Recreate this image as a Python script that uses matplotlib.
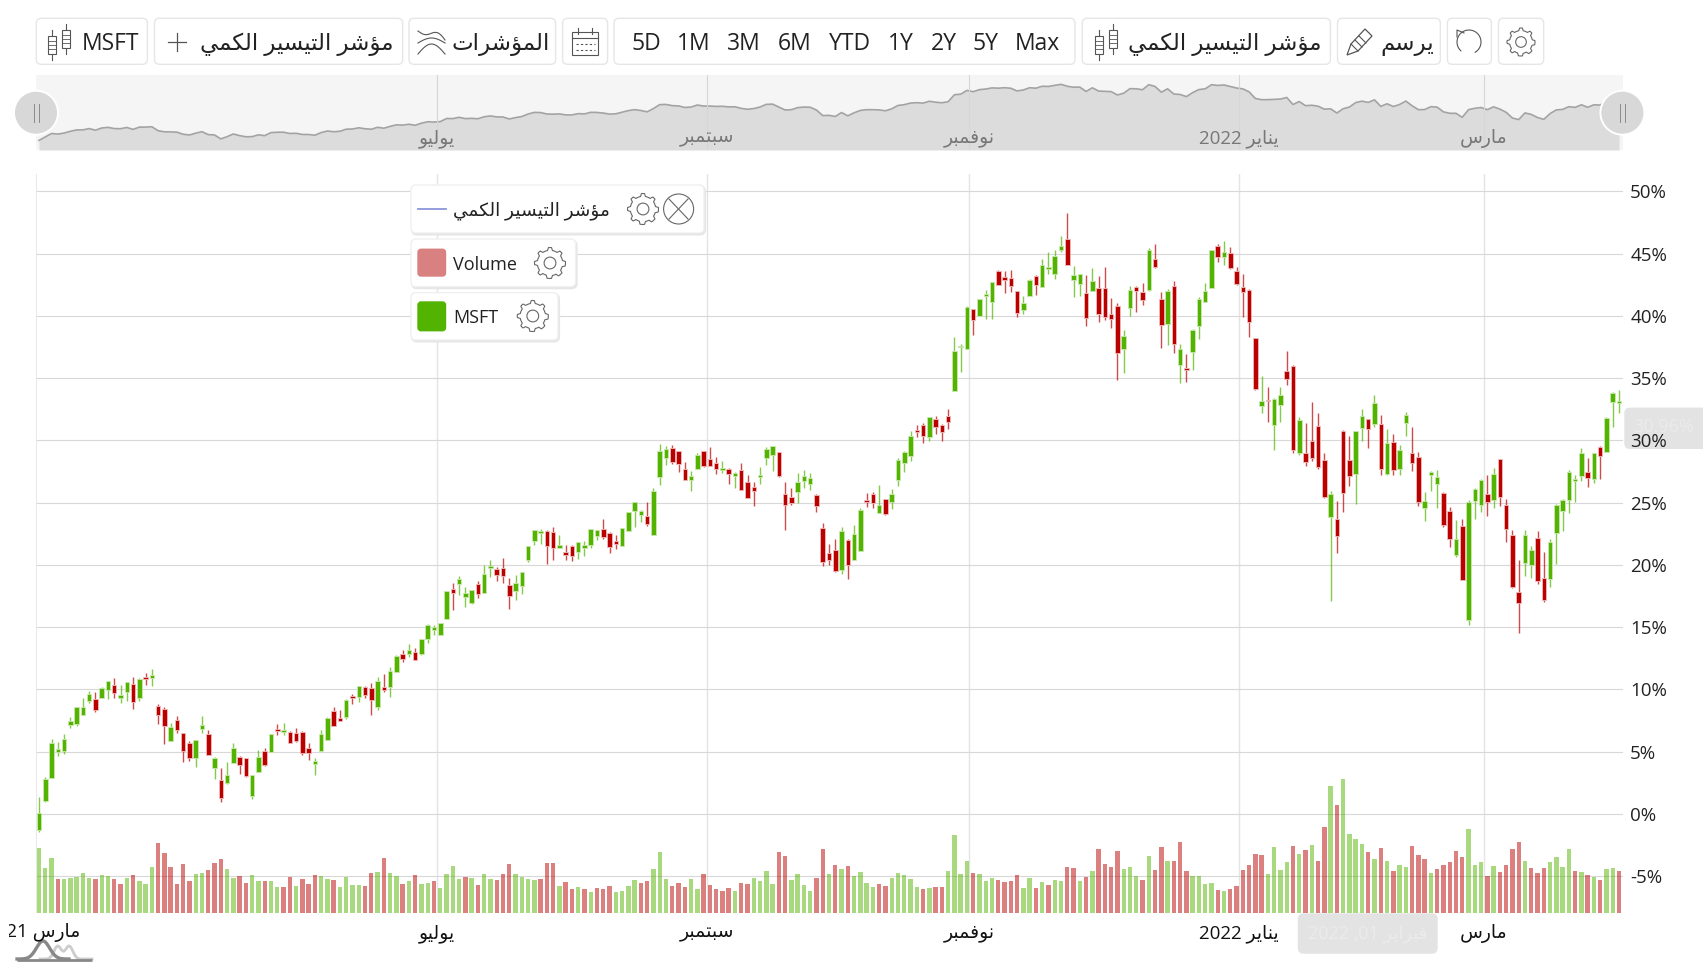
# %% imports
import numpy as np
import matplotlib
matplotlib.use('Agg')
import matplotlib.pyplot as plt
from matplotlib.patches import FancyBboxPatch, Rectangle, Circle, Polygon

plt.rcParams['font.family'] = ['Open Sans', 'DejaVu Sans']

# %% data (percent change, one candle per trading day)
high = [1.38, 2.98, 5.98, 5.74, 6.41, 7.75, 8.61, 9.28, 9.89, 9.76,
        10.21, 10.64, 10.91, 10.35, 10.56, 11.02, 10.88, 11.29, 11.63, 8.80,
        8.61, 7.32, 7.86, 6.52, 5.82, 5.93, 7.86, 6.71, 4.56, 3.66,
        4.16, 5.66, 4.62, 4.49, 3.15, 5.15, 5.29, 6.44, 7.19, 7.27,
        6.63, 6.89, 6.62, 5.68, 4.48, 6.75, 7.74, 8.58, 8.36, 9.22,
        9.59, 10.29, 10.29, 10.50, 10.98, 11.25, 11.79, 12.78, 13.18, 13.61,
        13.34, 14.06, 15.21, 15.19, 15.32, 17.88, 18.50, 19.09, 18.23, 17.99,
        18.69, 20.0, 20.35, 19.84, 20.54, 18.96, 19.20, 19.44, 21.50, 22.80,
        22.84, 22.83, 23.07, 22.37, 21.57, 21.62, 21.81, 21.94, 22.85, 22.82,
        23.65, 22.66, 22.42, 22.99, 24.27, 25.02, 24.40, 25.02, 26.14, 29.71,
        29.54, 29.63, 29.14, 28.23, 27.56, 29.01, 29.17, 29.44, 28.63, 28.31,
        27.75, 27.48, 28.15, 27.19, 26.63, 27.83, 29.49, 29.54, 29.06, 26.68,
        26.17, 27.35, 27.62, 27.40, 25.69, 23.33, 21.65, 22.05, 23.01, 22.05,
        23.17, 24.54, 25.80, 25.82, 26.39, 25.31, 26.06, 28.61, 29.14, 30.72,
        31.20, 31.37, 31.90, 31.93, 31.29, 32.49, 38.29, 37.75, 40.78, 40.56,
        41.37, 42.04, 42.73, 43.64, 43.61, 43.66, 41.97, 41.55, 42.99, 43.31,
        44.52, 45.13, 45.27, 46.39, 48.29, 43.98, 43.39, 43.31, 43.80, 43.23,
        43.88, 41.44, 41.04, 38.84, 42.43, 42.35, 42.67, 45.48, 45.80, 41.92,
        42.13, 42.83, 37.77, 36.91, 38.92, 41.47, 42.64, 45.32, 45.80, 46.04,
        45.54, 43.93, 43.34, 42.11, 38.25, 35.15, 34.24, 33.41, 34.24, 37.13,
        36.03, 31.83, 31.35, 33.11, 32.15, 28.94, 25.96, 25.11, 30.86, 30.33,
        30.78, 32.50, 31.72, 33.67, 31.99, 30.94, 30.54, 29.60, 32.28, 31.10,
        29.04, 25.86, 27.54, 27.60, 25.83, 24.60, 23.63, 23.71, 25.19, 26.20,
        26.85, 27.17, 27.81, 28.53, 25.32, 22.83, 20.42, 22.78, 21.54, 22.75,
        21.01, 22.03, 24.92, 25.32, 27.65, 27.19, 29.34, 28.59, 29.01, 29.52,
        31.83, 33.89, 34.02]
low = [-1.43, 0.98, 2.88, 4.67, 4.83, 6.87, 7.06, 7.94, 8.93, 8.18,
       9.28, 9.22, 9.30, 8.93, 9.06, 8.39, 9.09, 10.35, 10.29, 7.22,
       5.58, 5.85, 6.52, 4.19, 4.24, 3.76, 6.49, 4.75, 2.82, 0.95,
       2.40, 4.08, 3.23, 2.98, 1.19, 3.39, 3.82, 4.99, 6.36, 6.36,
       5.66, 5.80, 4.75, 4.34, 3.09, 5.01, 5.95, 7.08, 7.45, 7.64,
       8.84, 8.95, 9.27, 7.91, 8.31, 9.75, 9.40, 11.36, 12.16, 12.62,
       12.32, 12.78, 13.72, 14.38, 14.33, 15.64, 16.36, 17.56, 16.63, 16.81,
       17.32, 17.70, 19.01, 18.71, 18.55, 16.41, 17.19, 17.62, 20.24, 21.58,
       21.63, 20.03, 20.39, 21.35, 20.41, 20.33, 20.47, 20.74, 21.35, 21.99,
       22.10, 20.98, 21.25, 21.49, 22.72, 23.01, 23.44, 23.09, 22.40, 26.44,
       28.05, 28.07, 27.43, 26.81, 25.90, 27.67, 27.88, 27.94, 27.32, 27.40,
       26.49, 26.20, 26.01, 25.34, 24.75, 26.47, 28.02, 27.56, 27.08, 22.80,
       24.78, 24.94, 26.20, 25.98, 24.27, 19.93, 19.99, 19.45, 19.26, 18.84,
       20.42, 21.14, 24.65, 24.59, 24.16, 23.98, 24.46, 26.31, 27.48, 28.37,
       30.29, 29.81, 29.95, 30.54, 29.97, 30.88, 33.92, 35.48, 37.35, 38.42,
       39.95, 39.76, 39.76, 42.44, 41.84, 41.89, 39.91, 40.15, 41.55, 41.65,
       42.30, 43.34, 42.97, 45.13, 44.04, 41.47, 41.60, 39.16, 41.97, 39.51,
       39.65, 39.03, 34.88, 35.41, 39.97, 40.29, 40.85, 42.0, 43.82, 37.45,
       37.64, 37.02, 34.56, 34.69, 35.68, 38.15, 41.09, 42.24, 44.33, 44.09,
       43.77, 42.46, 39.89, 38.31, 34.0, 32.15, 31.50, 29.23, 31.43, 34.45,
       28.94, 28.80, 27.94, 28.35, 27.73, 25.40, 17.08, 20.93, 24.25, 26.34,
       24.89, 29.95, 29.39, 31.03, 27.22, 27.22, 27.17, 27.19, 30.35, 27.54,
       24.76, 23.55, 25.94, 24.57, 23.0, 21.44, 20.64, 18.81, 15.15, 23.71,
       24.25, 23.88, 24.57, 24.70, 21.79, 18.15, 14.53, 19.08, 18.97, 18.49,
       16.97, 18.23, 20.10, 22.72, 24.17, 25.03, 26.74, 26.26, 26.53, 26.90,
       29.04, 31.08, 32.15]
open_ = [-1.30, 1.06, 2.88, 4.94, 5.05, 7.14, 7.19, 7.94, 9.04, 9.22,
         9.33, 9.97, 10.37, 9.28, 9.76, 10.40, 9.30, 11.02, 10.88, 8.66,
         8.39, 5.85, 7.51, 6.47, 5.69, 4.49, 6.84, 6.44, 3.66, 2.72,
         2.48, 4.08, 4.59, 4.46, 1.43, 3.39, 5.02, 4.99, 6.81, 6.57,
         6.57, 6.49, 6.59, 5.28, 3.97, 5.04, 5.95, 8.28, 7.69, 7.80,
         9.49, 9.35, 10.21, 10.07, 8.55, 10.18, 10.15, 11.36, 12.86, 12.83,
         12.97, 12.86, 14.01, 14.76, 14.33, 15.66, 18.02, 18.47, 17.40, 16.92,
         18.47, 17.70, 19.73, 19.68, 19.71, 18.39, 17.91, 18.29, 20.35, 21.87,
         22.54, 22.70, 22.61, 21.35, 21.0, 21.51, 21.0, 21.38, 21.62, 22.32,
         22.90, 22.53, 21.89, 21.51, 22.74, 24.32, 23.98, 23.90, 22.40, 27.08,
         28.61, 29.41, 29.12, 27.70, 26.79, 27.70, 29.14, 28.50, 28.21, 27.62,
         27.70, 27.11, 27.62, 26.63, 26.25, 27.03, 28.58, 28.82, 29.04, 25.72,
         25.48, 25.82, 26.73, 26.47, 25.61, 22.93, 20.95, 21.22, 19.59, 21.97,
         20.42, 21.14, 25.23, 25.69, 24.16, 25.29, 25.02, 26.84, 28.18, 28.72,
         30.83, 31.20, 30.24, 31.71, 31.26, 31.95, 33.97, 37.49, 37.35, 40.56,
         40.0, 41.61, 41.10, 43.62, 43.13, 43.02, 41.95, 40.45, 41.57, 43.21,
         42.32, 43.72, 43.37, 45.27, 46.20, 42.91, 42.59, 41.84, 42.0, 42.24,
         42.19, 40.13, 40.82, 37.34, 40.64, 42.27, 41.89, 42.03, 44.52, 41.36,
         39.32, 42.43, 36.03, 35.79, 37.05, 39.19, 41.09, 42.24, 45.59, 44.73,
         45.05, 43.61, 42.27, 42.05, 38.25, 32.76, 33.27, 31.24, 32.87, 35.60,
         35.98, 28.99, 28.99, 29.95, 31.13, 28.40, 23.85, 23.66, 30.73, 28.40,
         27.28, 31.0, 31.69, 31.29, 31.29, 27.25, 29.85, 27.70, 31.40, 28.96,
         28.64, 24.54, 27.19, 26.50, 25.78, 24.33, 20.80, 23.10, 15.55, 25.13,
         24.79, 25.72, 25.24, 28.51, 24.84, 22.43, 17.85, 20.15, 19.97, 22.14,
         18.90, 18.87, 22.56, 24.33, 25.24, 26.74, 27.11, 27.46, 26.85, 29.47,
         29.04, 33.09, 33.03]
close = [0.04, 2.80, 5.66, 5.18, 6.01, 7.46, 8.55, 8.61, 9.65, 8.34,
         10.11, 10.64, 9.68, 9.54, 10.56, 9.01, 10.83, 10.86, 11.15, 7.91,
         7.03, 6.95, 6.73, 5.02, 4.46, 5.93, 7.13, 4.75, 4.46, 1.27,
         3.09, 5.26, 3.92, 3.01, 3.12, 4.56, 3.92, 6.39, 6.68, 6.71,
         5.66, 5.82, 4.88, 4.85, 4.26, 6.41, 7.69, 7.08, 7.48, 9.16,
         9.32, 10.29, 9.54, 9.11, 10.69, 9.97, 11.44, 12.70, 12.46, 13.18,
         12.35, 14.04, 15.19, 15.0, 15.30, 17.86, 17.75, 18.82, 17.75, 17.97,
         17.62, 19.25, 19.92, 19.17, 19.06, 17.46, 18.55, 19.44, 21.47, 22.80,
         22.68, 21.50, 21.35, 21.57, 20.79, 20.74, 21.81, 21.57, 22.85, 22.77,
         22.26, 21.43, 21.67, 22.96, 24.27, 25.02, 24.35, 23.25, 25.93, 29.12,
         29.28, 28.29, 28.07, 26.81, 27.16, 28.80, 27.96, 27.96, 27.67, 27.78,
         27.27, 27.38, 26.04, 25.37, 25.93, 27.19, 29.33, 29.52, 27.16, 24.78,
         25.0, 26.68, 27.14, 27.0, 24.73, 20.23, 20.39, 19.51, 22.69, 20.01,
         22.50, 24.38, 25.02, 24.99, 24.83, 24.11, 25.72, 28.45, 29.09, 30.38,
         30.70, 30.35, 31.87, 31.07, 30.64, 31.47, 37.16, 37.59, 40.70, 39.63,
         41.31, 41.77, 42.71, 42.49, 42.86, 42.43, 40.23, 41.04, 42.86, 42.48,
         44.04, 43.88, 44.79, 45.59, 44.06, 43.26, 43.37, 39.81, 42.80, 40.15,
         39.94, 39.70, 36.97, 38.39, 42.08, 42.0, 41.23, 45.32, 43.90, 39.22,
         41.97, 37.74, 37.37, 35.63, 38.87, 41.36, 41.97, 45.29, 44.71, 45.11,
         43.82, 42.59, 41.92, 39.51, 34.10, 33.14, 33.17, 33.35, 33.62, 34.93,
         29.20, 31.61, 28.29, 28.59, 27.86, 25.45, 25.72, 22.30, 25.78, 27.14,
         30.76, 31.93, 30.91, 33.0, 27.70, 29.79, 27.60, 29.20, 32.0, 28.21,
         25.03, 25.11, 27.46, 27.06, 23.23, 22.08, 22.05, 18.81, 25.03, 26.12,
         26.77, 25.03, 27.33, 25.45, 22.88, 18.23, 16.94, 22.38, 21.17, 18.68,
         17.15, 21.81, 24.84, 25.24, 27.44, 26.90, 28.99, 26.98, 28.99, 28.77,
         31.80, 33.81, 33.16]
# volume in millions of shares
volume = [43.7, 30.4, 36.9, 23.0, 22.7, 23.6, 24.5, 27.0, 23.6, 23.0,
          25.7, 25.0, 23.2, 19.6, 23.9, 25.7, 21.4, 19.6, 31.1, 47.1,
          40.5, 31.1, 19.6, 32.9, 21.8, 26.4, 27.0, 29.3, 33.6, 36.7,
          29.7, 23.6, 25.0, 20.0, 25.7, 21.6, 21.8, 21.4, 17.6, 17.6,
          24.5, 18.2, 23.2, 19.4, 25.5, 25.2, 23.0, 22.3, 17.8, 24.5,
          18.9, 18.9, 18.0, 27.0, 27.5, 37.2, 26.8, 25.0, 19.4, 21.4,
          25.5, 19.6, 20.0, 21.6, 16.7, 26.4, 31.5, 23.0, 24.5, 23.9,
          18.9, 26.1, 23.0, 22.5, 26.4, 32.9, 26.4, 24.3, 23.2, 22.5,
          23.0, 33.6, 33.6, 18.2, 20.9, 16.2, 17.8, 16.2, 14.0, 16.7,
          16.0, 18.5, 14.0, 14.6, 18.2, 22.3, 20.0, 21.6, 29.7, 41.0,
          23.0, 18.2, 20.0, 17.6, 22.7, 16.2, 26.4, 18.9, 16.2, 14.6,
          17.1, 14.9, 20.0, 19.6, 23.6, 21.8, 28.4, 19.6, 41.4, 38.5,
          22.3, 26.6, 18.7, 14.9, 23.6, 43.2, 26.4, 32.4, 30.0, 31.5,
          25.0, 27.9, 20.3, 17.6, 19.4, 18.0, 23.4, 27.0, 25.5, 22.7,
          17.6, 16.4, 16.9, 17.6, 17.6, 28.2, 52.7, 26.1, 34.9, 27.0,
          26.4, 21.4, 23.9, 22.5, 20.9, 21.4, 25.7, 16.9, 23.6, 16.7,
          20.9, 19.1, 22.3, 21.8, 31.1, 30.2, 21.6, 24.3, 28.4, 43.0,
          33.1, 30.9, 41.9, 29.7, 31.1, 24.8, 22.3, 38.3, 29.1, 44.6,
          35.4, 34.9, 48.0, 28.4, 25.0, 25.0, 19.6, 20.0, 15.5, 14.9,
          16.0, 18.0, 29.1, 32.7, 39.9, 39.4, 26.1, 44.4, 29.3, 34.5,
          45.3, 39.9, 42.6, 45.7, 35.4, 58.1, 85.8, 73.0, 90.5, 53.4,
          49.8, 46.4, 41.0, 36.7, 43.7, 35.1, 28.4, 32.4, 31.3, 45.3,
          39.2, 36.3, 27.0, 30.0, 32.4, 34.2, 41.9, 38.1, 57.0, 32.4,
          34.7, 25.0, 31.8, 27.5, 32.4, 43.2, 48.2, 35.1, 30.6, 27.0,
          30.6, 34.2, 37.8, 31.1, 43.2, 28.4, 27.7, 25.7, 24.5, 22.5,
          29.7, 30.4, 28.2]
volume_dir = list('GGGRGGGGGR' 'GGRRGRGGGR' 'RRRRRGGRRR' 'GGRRGGRGGR' 'RGRRRGGRGG'
                  'GGRRGRGGRG' 'RGGRGGGGRG' 'RGGRRRGGGG' 'RRRGRRGRGR' 'RRGGGGRRGG'
                  'GRRRGGRRRR' 'RGRRGGGGRR' 'GGGGRRGRGR' 'GGGGRRGGGG' 'GRGRRGGGGR'
                  'GGGRRRRGGR' 'GRGGRRGRGR' 'RRRGGGRGRR' 'GRRRGGGGRG' 'RRRRRRGGGG'
                  'RGRGRRGRGG' 'GGRGRGRGGR' 'RRGRRRRRGG' 'GRGRRRRGRR' 'RGGGGRGRGR'
                  'GGR')

y_ticks = [50, 45, 40, 35, 30, 25, 20, 15, 10, 5, 0, -5]
month_pos = [63.4, 106.5, 148.4, 191.4, 230.4]
month_names = ['يوليو', 'سبتمبر', 'نوفمبر', 'يناير', 'مارس']
range_labels = ['5D', '1M', '3M', '6M', 'YTD', '1Y', '2Y', '5Y', 'Max']

GREEN = '#52b400'
RED = '#bb0000'
GRID = '#d8d8d8'
VGRID = '#e4e4e4'

# %% arabic shaping, matplotlib draws glyphs one by one without joining them
FORMS = {'ا': (0xFE8D, 0xFE8E, None, None), 'ب': (0xFE8F, 0xFE90, 0xFE91, 0xFE92),
         'ت': (0xFE95, 0xFE96, 0xFE97, 0xFE98), 'ر': (0xFEAD, 0xFEAE, None, None),
         'س': (0xFEB1, 0xFEB2, 0xFEB3, 0xFEB4), 'ش': (0xFEB5, 0xFEB6, 0xFEB7, 0xFEB8),
         'ف': (0xFED1, 0xFED2, 0xFED3, 0xFED4), 'ك': (0xFED9, 0xFEDA, 0xFEDB, 0xFEDC),
         'ل': (0xFEDD, 0xFEDE, 0xFEDF, 0xFEE0), 'م': (0xFEE1, 0xFEE2, 0xFEE3, 0xFEE4),
         'ن': (0xFEE5, 0xFEE6, 0xFEE7, 0xFEE8), 'و': (0xFEED, 0xFEEE, None, None),
         'ي': (0xFEF1, 0xFEF2, 0xFEF3, 0xFEF4), 'ؤ': (0xFE85, 0xFE86, None, None)}


def ar(text):
    out = []
    for j, c in enumerate(text):
        if c not in FORMS:
            out.append(c)
            continue
        prev = text[j - 1] if j > 0 else ' '
        nxt = text[j + 1] if j + 1 < len(text) else ' '
        to_prev = prev in FORMS and FORMS[prev][2] is not None
        to_next = nxt in FORMS and FORMS[c][2] is not None
        if to_prev and to_next:
            out.append(chr(FORMS[c][3]))
        elif to_prev:
            out.append(chr(FORMS[c][1]))
        elif to_next:
            out.append(chr(FORMS[c][2]))
        else:
            out.append(chr(FORMS[c][0]))
    return ''.join(out[::-1])


month_labels = [ar(m) for m in month_names]
month_labels[3] = '2022 ' + month_labels[3]

# %% axes
W, H = 1703, 974
fig = plt.figure(figsize=(W / 100, H / 100), dpi=100, facecolor='white')
X_LEFT, X_RIGHT = 36.3, 1622.6
xlim = (-0.43, 252.57)


def px_axes(top, bottom):
    return fig.add_axes([X_LEFT / W, 1 - bottom / H, (X_RIGHT - X_LEFT) / W, (bottom - top) / H])


# hover labels sit under the tick labels
back = fig.add_axes([0, 0, 1, 1], zorder=-1)
back.set_xlim(0, W)
back.set_ylim(H, 0)
back.axis('off')

ax = px_axes(173.7, 913)
ax.patch.set_alpha(0)
ax.set_xlim(xlim)
ax.set_ylim(-7.97, 51.41)
for s in ax.spines.values():
    s.set_visible(False)
ax.set_yticks(y_ticks)
ax.set_yticklabels([f'{v}%' for v in y_ticks], fontsize=13.5)
ax.yaxis.tick_right()
ax.tick_params(axis='y', length=0, pad=5.5, labelcolor='#222222')
ax.set_xticks(month_pos)
ax.set_xticklabels(month_labels, fontsize=13.5)
ax.tick_params(axis='x', length=0, pad=8, labelcolor='#111111')
ax.grid(True, axis='y', color=GRID, lw=0.8)
ax.grid(True, axis='x', color=VGRID, lw=1)
ax.set_axisbelow(True)
ax.axvline(xlim[0], color=VGRID, lw=1.2)

# candles
x = np.arange(len(close))
op, cl, hi, lo = map(np.array, (open_, close, high, low))
up = cl >= op
colors = np.where(up, GREEN, RED)
edges = np.where(up, '#cbe8b0', '#eebcbc')
ax.vlines(x, lo, hi, colors=colors, lw=1.0, alpha=0.7, zorder=3)
ax.bar(x, np.abs(cl - op), bottom=np.minimum(op, cl), width=0.72, color=colors,
       edgecolor=edges, lw=0.6, zorder=4)

# volume on its own scale, same baseline
ax_vol = px_axes(173.7, 913)
ax_vol.set_xlim(xlim)
ax_vol.set_ylim(0, 499.5)
ax_vol.axis('off')
vol_colors = [GREEN if d == 'G' else RED for d in volume_dir]
ax_vol.bar(x, volume, width=0.7, color=vol_colors, alpha=0.5, lw=0)

# navigator
nav = px_axes(75, 150)
nav.set_xlim(xlim)
nav.set_ylim(-7.75, 53.2)
nav.set_facecolor('#f5f5f5')
for s in nav.spines.values():
    s.set_visible(False)
nav.set_xticks([])
nav.set_yticks([])
nav.fill_between(x, close, -7.75, color='#dcdcdc', lw=0)
nav.plot(x, close, color='#a3a3a3', lw=1.2)
for pos, lab in zip(month_pos, month_labels):
    nav.axvline(pos, color='#d6d6d6', lw=0.8)
    nav.text(pos, 0.155, lab, transform=nav.get_xaxis_transform(), ha='center', va='center',
             fontsize=13.5, color='#777777')

# %% chrome of the widget, in pixel coordinates
ui = fig.add_axes([0, 0, 1, 1], zorder=10)
ui.set_xlim(0, W)
ui.set_ylim(H, 0)
ui.axis('off')
ui.patch.set_alpha(0)
ICON = '#555555'


def box(x0, x1, y0, y1, fc='white', ec='#e6e6e6', rad=5, lw=1, z=2, target=ui):
    target.add_patch(FancyBboxPatch((x0, y0), x1 - x0, y1 - y0, boxstyle=f'round,pad=0,rounding_size={rad}',
                                    fc=fc, ec=ec, lw=lw, zorder=z))


def gear(cx, cy, r=14, z=5):
    ang = np.linspace(0, 2 * np.pi, 64, endpoint=False)
    rad = r * (0.82 + 0.18 * (np.cos(8 * ang) > 0))
    ui.add_patch(Polygon(np.c_[cx + rad * np.cos(ang), cy + rad * np.sin(ang)], closed=True, fc='none',
                         ec='#666666', lw=0.8, zorder=z))
    ui.add_patch(Circle((cx, cy), r * 0.38, fc='none', ec='#666666', lw=0.8, zorder=z))


def candle_icon(cx, cy):
    for dx, dy in ((-7, 3), (7, -3)):
        ui.plot([cx + dx] * 2, [cy + dy - 15, cy + dy + 15], color=ICON, lw=0.8)
        ui.add_patch(Rectangle((cx + dx - 4, cy + dy - 9), 8, 18, fc='white', ec=ICON, lw=0.8, zorder=4))
        for k in (-4, 0, 4):
            ui.plot([cx + dx - 4, cx + dx + 4], [cy + dy + k] * 2, color=ICON, lw=0.6, zorder=5)


def ui_text(tx, ty, s, size=16.5, ha='center', color='#222222', z=6):
    return ui.text(tx, ty, s, fontsize=size, ha=ha, va='center', color=color, zorder=z)


for x0, x1 in [(36.3, 147.4), (154.5, 402.7), (409, 555.6), (562.6, 607.6), (614, 1075),
               (1082.3, 1330.4), (1337.5, 1440.3), (1447.4, 1491.4), (1498.5, 1543.7)]:
    box(x0, x1, 18.3, 64.3)

QUANT = ar('مؤشر التيسير الكمي')
TEXT_Y = 44
candle_icon(59, 42)
ui_text(110, TEXT_Y, 'MSFT')
ui.plot([176.7, 176.7], [33, 51], color=ICON, lw=0.9)
ui.plot([167.7, 185.7], [42, 42], color=ICON, lw=0.9)
ui_text(296.5, TEXT_Y, QUANT)
# indicators icon
t = np.linspace(0, 1, 30)
ui.plot(418 + 27 * t, 31 + 9 * t ** 2 + 3 * np.sin(2 * np.pi * t), color=ICON, lw=0.8)
ui.plot(418 + 27 * t, 43 - 5 * np.sin(np.pi * t), color=ICON, lw=0.8)
ui.plot(418 + 27 * t, 54 - 10 * np.sin(np.pi * t), color=ICON, lw=0.8)
ui_text(500.5, TEXT_Y, ar('المؤشرات'))
# calendar icon
ui.add_patch(Rectangle((572, 32), 26, 23, fc='white', ec=ICON, lw=0.8, zorder=4))
ui.plot([572, 598], [38, 38], color=ICON, lw=0.8, zorder=5)
ui.plot([578, 578], [28, 34], color=ICON, lw=0.8, zorder=5)
ui.plot([592, 592], [28, 34], color=ICON, lw=0.8, zorder=5)
for gy in (44, 50):
    ui.plot([576, 595], [gy, gy], color=ICON, lw=0.8, ls=(0, (2, 2)), zorder=5)

for cx, lab in zip([646, 694, 744, 795, 850, 901, 944, 986, 1037], range_labels):
    ui_text(cx, TEXT_Y, lab)

candle_icon(1105.5, 42)
ui_text(1225, TEXT_Y, QUANT)
ui_text(1407, TEXT_Y, ar('يرسم'))
# pencil icon
ui.add_patch(Polygon([[1347, 55], [1351, 44], [1365, 29], [1372, 36], [1358, 51]], closed=True,
                     fc='white', ec=ICON, lw=0.9, zorder=5))
ui.plot([1351, 1358], [44, 51], color=ICON, lw=0.8, zorder=6)
ui.plot([1355, 1362], [40, 47], color=ICON, lw=0.8, zorder=6)
ui.plot([1359, 1366], [36, 43], color=ICON, lw=0.8, zorder=6)
# reset icon
t = np.linspace(-2.4, 2.6, 50)
ui.plot(1469 + 12 * np.sin(t), 42 - 12 * np.cos(t), color=ICON, lw=0.8)
ui.plot([1457, 1457, 1464], [37, 30, 33], color=ICON, lw=0.8)
gear(1521, 42, 14)

# navigator handles
for cx in (36, 1622.4):
    ui.add_patch(Circle((cx, 112.7), 22, fc='#d8d8d8', ec='white', lw=1.4, zorder=6))
    ui.plot([cx - 2.5] * 2, [104, 122], color='#8a8a8a', lw=0.7, zorder=7)
    ui.plot([cx + 2.5] * 2, [104, 122], color='#8a8a8a', lw=0.7, zorder=7)

# legend boxes
for x0, x1, y0, y1 in [(411, 704, 185, 233), (411, 575.6, 239, 286.7), (411, 558, 292.7, 340)]:
    box(x0 + 1, x1 + 1, y0 + 1.5, y1 + 1.5, fc='#d8d8d8', ec='#e6e6e6', lw=1.5, z=2)
    box(x0, x1, y0, y1, ec='#f0f0f0', z=3)
ui.plot([418, 445.5], [208.7, 208.7], color='#8c96dc', lw=1.3, zorder=5)
ui_text(531, 211, QUANT, size=13.3, z=5)
gear(643, 209, 15.5)
ui.add_patch(Circle((678.6, 209), 15, fc='white', ec='#666666', lw=0.8, zorder=5))
ui.plot([669, 688], [199, 219], color='#666666', lw=0.8, zorder=6)
ui.plot([669, 688], [219, 199], color='#666666', lw=0.8, zorder=6)
box(418, 445.5, 249.3, 276, fc='#d98080', ec='#d98080', rad=3, z=5)
ui_text(453, 264.5, 'Volume', size=13, ha='left', z=5)
gear(550, 263, 15.5)
box(418, 445.5, 302, 330.7, fc=GREEN, ec=GREEN, rad=3, z=5)
ui_text(453, 318, 'MSFT', size=13, ha='left', z=5)
gear(532.8, 316, 15.5)

# hover labels, almost invisible in the original
box(1625, 1720, 408.3, 448.3, fc='#e3e3e3', ec='#e3e3e3', z=1, target=back)
back.text(1664, 427, '30.96%', fontsize=13, ha='center', va='center', color='#ebebeb', zorder=2)
box(1298.5, 1437, 914, 953, fc='#e3e3e3', ec='#e3e3e3', z=1, target=back)
back.text(1368, 934, '2022 ,01 ' + ar('فبراير'), fontsize=13, ha='center', va='center',
          color='#ebebeb', zorder=2)

# first label runs off the left edge of the chart
first = ui_text(80.4, 932.7, '2021 ' + ar('مارس'), size=13.5, ha='right', color='#111111')
first.set_clip_on(True)
first.set_clip_path(Rectangle((9, 900), 120, 60, transform=ui.transData))

# small distribution icon bottom left
t = np.linspace(0, 1, 60)
ui.plot(40 + 52 * t, 959 - 13 * np.exp(-((t - 0.34) / 0.1) ** 2) - 13 * np.exp(-((t - 0.56) / 0.1) ** 2),
        color='#cccccc', lw=2)
ui.plot(17 + 52 * t, 959 - 18 * np.exp(-((t - 0.5) / 0.18) ** 2), color='#888888', lw=2.4)
ui.plot([17, 92], [960, 960], color='#888888', lw=2, solid_capstyle='butt')

fig.savefig('out.png', dpi=100)
